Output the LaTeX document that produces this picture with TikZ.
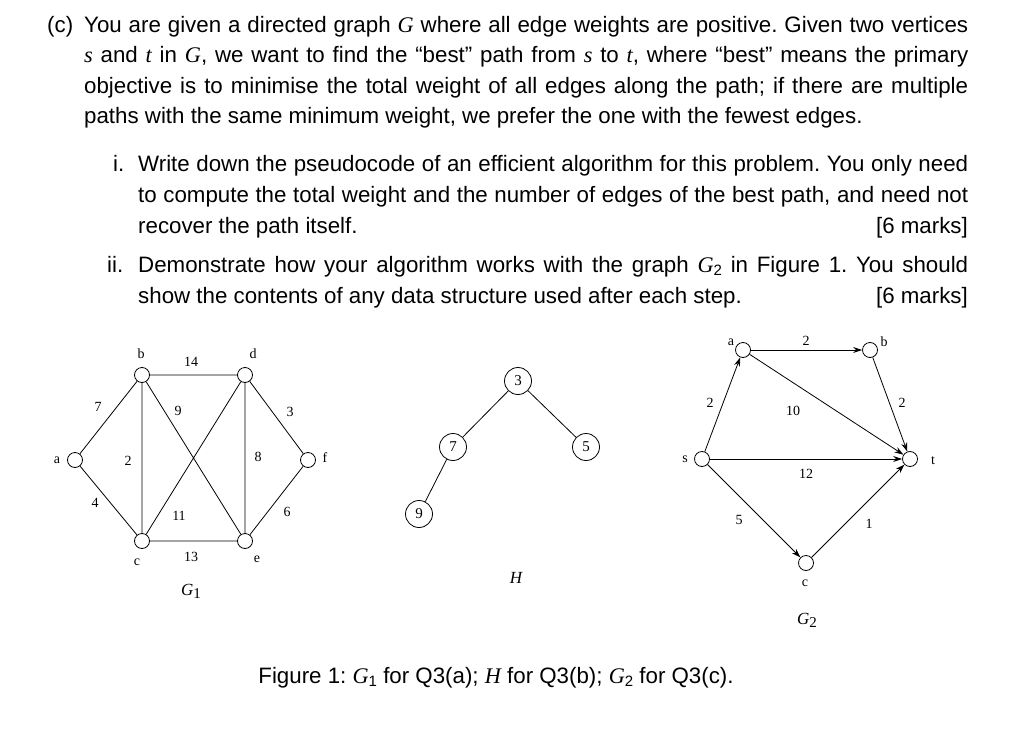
\documentclass[tikz,border=0pt]{standalone}
\usepackage{fontspec}
\setmainfont{Liberation Sans}
\newfontfamily\serif{Liberation Serif}
\usetikzlibrary{arrows.meta}
\frenchspacing
\newcommand{\mv}[1]{{\serif\itshape #1}}
\newcommand{\sbs}[2]{{\serif\itshape #1}\raisebox{-3pt}{\fontsize{15}{15}\selectfont #2}}
\tikzset{
  txt/.style={anchor=base west,inner sep=0pt,font=\fontsize{22.3}{30}\selectfont},
  vtx/.style={circle,draw,line width=0.8pt,minimum size=15pt,inner sep=0pt},
  hv/.style={circle,draw,line width=0.8pt,minimum size=27pt,inner sep=0pt,font=\serif\fontsize{15}{15}\selectfont},
  lab/.style={inner sep=1pt,font=\serif\fontsize{14}{14}\selectfont},
  edge/.style={line width=0.8pt},
  arr/.style={line width=0.8pt,-{Stealth[length=9pt,width=6pt]}}
}
\begin{document}
\begin{tikzpicture}[x=1pt,y=-1pt]
\useasboundingbox[fill=white] (0,0) rectangle (1030,752);
% text
\node[txt] (c0) at (47,33) {(c)};
\node[txt] (l1) at (84,33) {\makebox[884pt][s]{You are given a directed graph \mv{G} where all edge weights are positive. Given two vertices}};
\node[txt] (l2) at (84,63) {\makebox[884pt][s]{\mv{s} and \mv{t} in \mv{G}, we want to find the “best” path from \mv{s} to \mv{t}, where “best” means the primary}};
\node[txt] (l3) at (84,93) {\makebox[884pt][s]{objective is to minimise the total weight of all edges along the path; if there are multiple}};
\node[txt] (l4) at (84,123) {paths with the same minimum weight, we prefer the one with the fewest edges.};
\node[txt] (i0) at (113,171) {i.};
\node[txt] (i1) at (138,171) {\makebox[830pt][s]{Write down the pseudocode of an efficient algorithm for this problem. You only need}};
\node[txt] (i2) at (138,202) {\makebox[830pt][s]{to compute the total weight and the number of edges of the best path, and need not}};
\node[txt] (i3) at (138,233) {recover the path itself.};
\node[txt,anchor=base east] (m1) at (968,233) {[6 marks]};
\node[txt] (ii0) at (107,272) {ii.};
\node[txt] (ii1) at (138,272) {\makebox[830pt][s]{Demonstrate how your algorithm works with the graph \sbs{G}{2} in Figure 1. You should}};
\node[txt] (ii2) at (138,303) {show the contents of any data structure used after each step.};
\node[txt,anchor=base east] (m2) at (968,303) {[6 marks]};
% G1
\node[vtx] (a) at (75,460) {};
\node[vtx] (b) at (142,375) {};
\node[vtx] (d) at (245,375) {};
\node[vtx] (f) at (308,460) {};
\node[vtx] (c) at (142,541) {};
\node[vtx] (e) at (245,541) {};
\draw[edge] (a)--(b) (a)--(c) (b)--(c) (b)--(d) (b)--(e) (c)--(d) (d)--(e) (d)--(f) (e)--(f) (c)--(e);
\node[lab] (la) at (57,460) {a};
\node[lab] (lb) at (141,354) {b};
\node[lab] (ld) at (253,354) {d};
\node[lab] (lf) at (325,458) {f};
\node[lab] (lc) at (137,562) {c};
\node[lab] (le) at (257,559) {e};
\node[lab] (w1) at (191,362) {14};
\node[lab] (w2) at (98,407) {7};
\node[lab] (w3) at (178,411) {9};
\node[lab] (w4) at (290,412) {3};
\node[lab] (w5) at (128,461) {2};
\node[lab] (w6) at (258,457) {8};
\node[lab] (w7) at (95,503) {4};
\node[lab] (w8) at (179,516) {11};
\node[lab] (w9) at (287,512) {6};
\node[lab] (w10) at (191,557) {13};
\node[lab,font=\serif\fontsize{17}{17}\selectfont] (g1) at (191,591) {\sbs{G}{1}};
% H
\node[hv] (h3) at (518,381) {3};
\node[hv] (h7) at (453,447) {7};
\node[hv] (h5) at (586,447) {5};
\node[hv] (h9) at (419,514) {9};
\draw[edge] (h3)--(h7) (h3)--(h5) (h7)--(h9);
\node[lab,font=\serif\itshape\fontsize{17}{17}\selectfont] (hl) at (516,578) {H};
% G2
\node[vtx] (s) at (702,459) {};
\node[vtx] (ga) at (743,350) {};
\node[vtx] (gb) at (870,350) {};
\node[vtx] (t) at (910,459) {};
\node[vtx] (gc) at (806,563) {};
\draw[arr] (s)--(ga);
\draw[arr] (ga)--(gb);
\draw[arr] (ga)--(t);
\draw[arr] (gb)--(t);
\draw[arr] (s)--(t);
\draw[arr] (s)--(gc);
\draw[arr] (gc)--(t);
\node[lab] (ls) at (685,459) {s};
\node[lab] (lga) at (731,342) {a};
\node[lab] (lgb) at (884,342) {b};
\node[lab] (lt) at (933,461) {t};
\node[lab] (lgc) at (805,583) {c};
\node[lab] (v1) at (710,403) {2};
\node[lab] (v2) at (806,341) {2};
\node[lab] (v3) at (793,411) {10};
\node[lab] (v4) at (902,403) {2};
\node[lab] (v5) at (806,474) {12};
\node[lab] (v6) at (739,520) {5};
\node[lab] (v7) at (869,524) {1};
\node[lab,font=\serif\fontsize{17}{17}\selectfont] (g2) at (807,620) {\sbs{G}{2}};
% caption
\node[txt,anchor=base] (cap) at (496,683) {Figure 1: \sbs{G}{1} for Q3(a); \mv{H} for Q3(b); \sbs{G}{2} for Q3(c).};
\end{tikzpicture}
\end{document}
